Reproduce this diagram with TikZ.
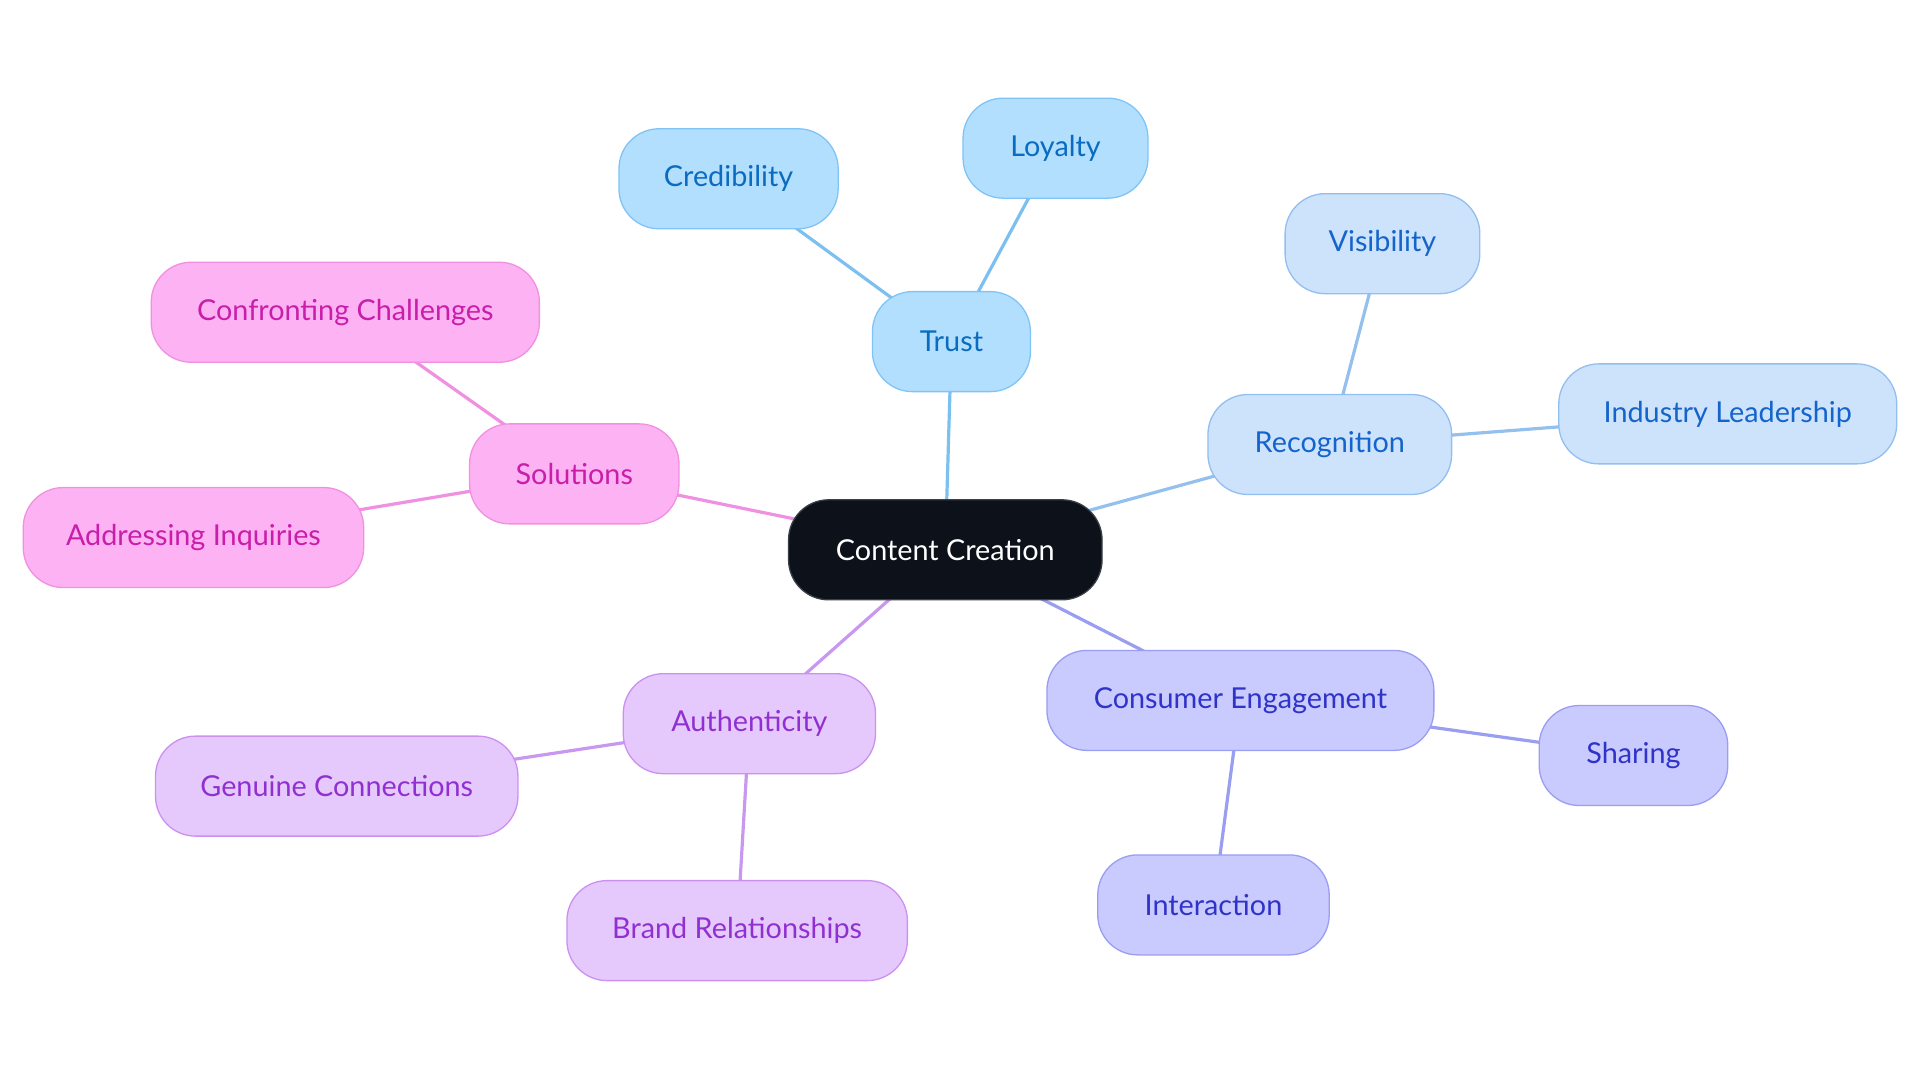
\documentclass[tikz,border=0pt]{standalone}
\usepackage{fontspec}
\setmainfont{Lato}
\usetikzlibrary{backgrounds}
\definecolor{ccfill}{HTML}{0C111A}
\definecolor{ccdraw}{HTML}{3A3F48}
\definecolor{trfill}{HTML}{B3DFFF}
\definecolor{trdraw}{HTML}{80C4F5}
\definecolor{trtext}{HTML}{0B6BBF}
\definecolor{trline}{HTML}{7CC0F0}
\definecolor{refill}{HTML}{CCE3FB}
\definecolor{redraw}{HTML}{92BEF0}
\definecolor{retext}{HTML}{1464CC}
\definecolor{reline}{HTML}{94C0EE}
\definecolor{cofill}{HTML}{C9CAFD}
\definecolor{codraw}{HTML}{9A9EF2}
\definecolor{cotext}{HTML}{3033C8}
\definecolor{coline}{HTML}{9A9EF0}
\definecolor{aufill}{HTML}{E6C9FC}
\definecolor{audraw}{HTML}{CC90F0}
\definecolor{autext}{HTML}{9030D0}
\definecolor{auline}{HTML}{C898F0}
\definecolor{sofill}{HTML}{FDB3F3}
\definecolor{sodraw}{HTML}{F090E0}
\definecolor{sotext}{HTML}{C81EAA}
\definecolor{soline}{HTML}{F090E0}
\begin{document}
\begin{tikzpicture}[x=1.2245pt,y=-1.2245pt,
  pill/.style={rectangle, rounded corners=40pt, line width=1.3pt, inner sep=0pt,
    minimum height=100pt, minimum width=#1*1.2245pt, align=center,
    font=\fontsize{28.8}{32}\selectfont},
  ccnode/.style={pill=#1, fill=ccfill, draw=ccdraw, text=white},
  trnode/.style={pill=#1, fill=trfill, draw=trdraw, text=trtext},
  renode/.style={pill=#1, fill=refill, draw=redraw, text=retext},
  conode/.style={pill=#1, fill=cofill, draw=codraw, text=cotext},
  aunode/.style={pill=#1, fill=aufill, draw=audraw, text=autext},
  sonode/.style={pill=#1, fill=sofill, draw=sodraw, text=sotext},
  edge/.style={line width=3.2pt}]
\useasboundingbox (0,0) rectangle (1568,884.4);
\node[ccnode=256] (cc) at (772,449) {Content Creation};
\node[trnode=129] (trust) at (777,279) {Trust};
\node[trnode=179] (cred) at (595,146) {Credibility};
\node[trnode=151] (loyal) at (862,121) {Loyalty};
\node[renode=199] (recog) at (1086,363) {Recognition};
\node[renode=159] (vis) at (1129,199) {Visibility};
\node[renode=276] (ind) at (1411,338) {Industry Leadership};
\node[conode=316] (cons) at (1013,572) {Consumer Engagement};
\node[conode=154] (share) at (1334,617) {Sharing};
\node[conode=189] (inter) at (991,739) {Interaction};
\node[aunode=206] (auth) at (612,591) {Authenticity};
\node[aunode=296] (gen) at (275,642) {Genuine Connections};
\node[aunode=278] (brand) at (602,760) {Brand Relationships};
\node[sonode=171] (sol) at (469,387) {Solutions};
\node[sonode=317] (conf) at (282,255) {Confronting Challenges};
\node[sonode=278] (addr) at (158,439) {Addressing Inquiries};
\begin{scope}[on background layer]
\draw[edge, trline] (cc.center) -- (trust.center);
\draw[edge, trline] (trust.center) -- (cred.center);
\draw[edge, trline] (trust.center) -- (loyal.center);
\draw[edge, reline] (cc.center) -- (recog.center);
\draw[edge, reline] (recog.center) -- (vis.center);
\draw[edge, reline] (recog.center) -- (ind.center);
\draw[edge, coline] (cc.center) -- (cons.center);
\draw[edge, coline] (cons.center) -- (share.center);
\draw[edge, coline] (cons.center) -- (inter.center);
\draw[edge, auline] (cc.center) -- (auth.center);
\draw[edge, auline] (auth.center) -- (gen.center);
\draw[edge, auline] (auth.center) -- (brand.center);
\draw[edge, soline] (cc.center) -- (sol.center);
\draw[edge, soline] (sol.center) -- (conf.center);
\draw[edge, soline] (sol.center) -- (addr.center);
\end{scope}
\end{tikzpicture}
\end{document}
